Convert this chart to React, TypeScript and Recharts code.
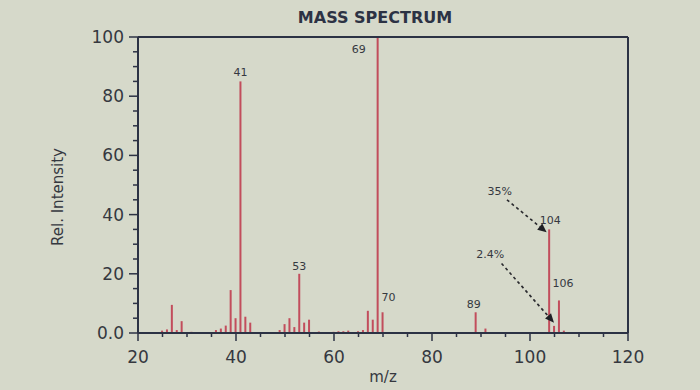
import React from "react";
import {
  ComposedChart,
  Bar,
  XAxis,
  YAxis,
  ReferenceLine,
  ReferenceDot,
  LabelList,
} from "recharts";

// m/z values and their relative intensities
const mzValues = [
  25, 26, 27, 28, 29, 31, 36, 37, 38, 39, 40, 41, 42, 43, 49, 50, 51, 52, 53, 54,
  55, 57, 60, 61, 62, 63, 65, 66, 67, 68, 69, 70, 89, 91, 104, 105, 106, 107,
];
const intensities = [
  0.8, 1.2, 9.5, 1, 4, 0.4, 1, 1.5, 2.5, 14.5, 5, 85, 5.5, 3.5, 1, 3, 5, 2, 20, 3.5,
  4.5, 0.5, 0.4, 0.6, 0.6, 0.8, 0.6, 1, 7.5, 4.5, 100, 7, 7, 1.5, 35, 2.4, 11, 0.8,
];
const labeledPeaks = [41, 53, 69, 70, 89, 104, 106];

const xTicks = [20, 25, 30, 35, 40, 45, 50, 55, 60, 65, 70, 75, 80, 85, 90, 95, 100, 105, 110, 115, 120];
const yTicks = [0, 5, 10, 15, 20, 25, 30, 35, 40, 45, 50, 55, 60, 65, 70, 75, 80, 85, 90, 95, 100];

// dashed arrows pointing at the molecular ion peaks
const annotationText = ["35%", "2.4%"];
const annotationAt = [
  [93.8, 48],
  [91.9, 26.5],
];
const arrowFrom = [
  [95.3, 45],
  [94.2, 23.5],
];
const arrowTo = [
  [103.4, 34],
  [104.9, 3.5],
];

const data = mzValues.map((mz, i) => ({
  mz,
  intensity: intensities[i],
  tag: labeledPeaks.includes(mz) ? String(mz) : undefined,
}));

const BG = "#d6d9ca";
const INK = "#2c3244";
const TEXT = "#35383f";
const PEAK = "#c24d5c";
const FONT = "'DejaVu Sans', sans-serif";

// label offsets relative to the top centre of each labelled peak
const labelOffset: Record<string, [number, number]> = {
  "41": [0, -5],
  "53": [0, -4],
  "69": [-19, 16],
  "70": [6, -11],
  "89": [-2, -4],
  "104": [1, -5],
  "106": [4, -13],
};

function PeakLabel(props: any) {
  const { x, y, width, value } = props;
  if (!value) return null;
  const [dx, dy] = labelOffset[value] || [0, -4];
  return (
    <text
      x={x + width / 2 + dx}
      y={y + dy}
      textAnchor="middle"
      fontSize={11}
      fontFamily={FONT}
      fill={TEXT}
    >
      {value}
    </text>
  );
}

function XTick(props: any) {
  const { x, y, payload } = props;
  const major = payload.value % 20 === 0;
  return (
    <g>
      <line x1={x} y1={y} x2={x} y2={y + (major ? 8 : 4)} stroke={INK} strokeWidth={1.5} />
      {major && (
        <text x={x} y={y + 30} textAnchor="middle" fontSize={17} fontFamily={FONT} fill={TEXT}>
          {payload.value}
        </text>
      )}
    </g>
  );
}

function YTick(props: any) {
  const { x, y, payload } = props;
  const major = payload.value % 20 === 0;
  return (
    <g>
      <line x1={x} y1={y} x2={x - (major ? 9 : 5)} y2={y} stroke={INK} strokeWidth={1.5} />
      {major && (
        <text x={x - 14} y={y + 6} textAnchor="end" fontSize={17} fontFamily={FONT} fill={TEXT}>
          {payload.value === 0 ? "0.0" : payload.value}
        </text>
      )}
    </g>
  );
}

function DashedArrow(props: any) {
  const { x1, y1, x2, y2 } = props;
  const a = Math.atan2(y2 - y1, x2 - x1);
  const len = 9;
  const w = 4;
  const bx = x2 - len * Math.cos(a);
  const by = y2 - len * Math.sin(a);
  const px = -Math.sin(a) * w;
  const py = Math.cos(a) * w;
  return (
    <g>
      <line x1={x1} y1={y1} x2={bx} y2={by} stroke="#2a2a2e" strokeWidth={1.6} strokeDasharray="3 3" />
      <polygon points={`${x2},${y2} ${bx + px},${by + py} ${bx - px},${by - py}`} fill="#1f1f24" />
    </g>
  );
}

export default function App() {
  return (
    <div
      style={{
        position: "absolute",
        left: 0,
        top: 0,
        width: 700,
        height: 390,
        background: BG,
        fontFamily: FONT,
      }}
    >
      <div
        style={{
          position: "absolute",
          left: 275,
          top: 8,
          width: 200,
          textAlign: "center",
          fontSize: 16,
          fontWeight: "bold",
          color: INK,
        }}
      >
        MASS SPECTRUM
      </div>
      <div
        style={{
          position: "absolute",
          left: 58 - 70,
          top: 197 - 10,
          width: 140,
          height: 20,
          lineHeight: "20px",
          textAlign: "center",
          fontSize: 15,
          color: TEXT,
          transform: "rotate(-90deg)",
        }}
      >
        Rel. Intensity
      </div>
      <div
        style={{
          position: "absolute",
          left: 333,
          top: 368,
          width: 100,
          textAlign: "center",
          fontSize: 15,
          color: TEXT,
        }}
      >
        m/z
      </div>
      <ComposedChart
        width={700}
        height={390}
        data={data}
        margin={{ top: 37, right: 72, bottom: 27, left: 0 }}
      >
        <XAxis
          dataKey="mz"
          type="number"
          domain={[20, 120]}
          ticks={xTicks}
          interval={0}
          height={30}
          tickSize={0}
          tickMargin={0}
          tickLine={false}
          tick={<XTick />}
          axisLine={{ stroke: INK, strokeWidth: 2 }}
          allowDataOverflow
        />
        <YAxis
          type="number"
          domain={[0, 100]}
          ticks={yTicks}
          interval={0}
          width={138}
          tickSize={0}
          tickMargin={0}
          tickLine={false}
          tick={<YTick />}
          axisLine={{ stroke: INK, strokeWidth: 2 }}
          allowDataOverflow
        />
        <ReferenceLine y={100} stroke={INK} strokeWidth={2} />
        <ReferenceLine x={120} stroke={INK} strokeWidth={2} />
        <Bar dataKey="intensity" fill={PEAK} barSize={2} isAnimationActive={false}>
          <LabelList dataKey="tag" content={PeakLabel} />
        </Bar>
        {annotationText.map((t, i) => (
          <ReferenceLine
            key={"arrow" + i}
            segment={[
              { x: arrowFrom[i][0], y: arrowFrom[i][1] },
              { x: arrowTo[i][0], y: arrowTo[i][1] },
            ]}
            shape={DashedArrow}
          />
        ))}
        {annotationText.map((t, i) => (
          <ReferenceDot
            key={"note" + i}
            x={annotationAt[i][0]}
            y={annotationAt[i][1]}
            r={0}
            fill="none"
            stroke="none"
            label={{ value: t, position: "center", fontSize: 11, fill: TEXT, fontFamily: FONT }}
          />
        ))}
      </ComposedChart>
    </div>
  );
}
